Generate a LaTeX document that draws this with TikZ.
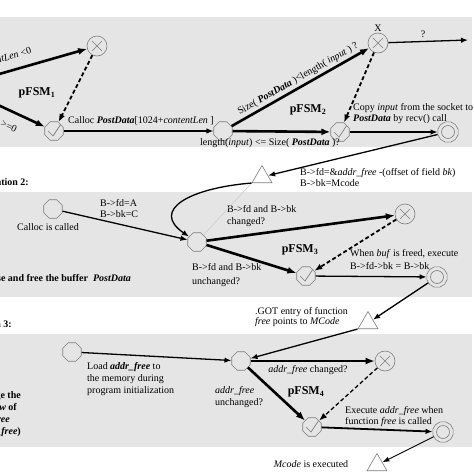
\documentclass[tikz,border=0pt]{standalone}
\usepackage{fontspec}
\setmainfont{Liberation Serif}
\usetikzlibrary{shapes.geometric,arrows.meta}
\definecolor{bgc}{RGB}{229,229,229}
\definecolor{ndc}{RGB}{125,125,125}
\begin{document}
\begin{tikzpicture}[x=1pt,y=-1pt,
  every node/.style={font=\fontsize{10}{11}\selectfont, inner sep=0pt},
  stn/.style={regular polygon, regular polygon sides=8, minimum size=20pt, draw=ndc, line width=0.6pt},
  xn/.style={circle, minimum size=20pt, draw=ndc, line width=0.6pt,
    path picture={\draw[ndc,line width=0.6pt]
      ([shift={(-5,-5)}]path picture bounding box.center) -- ([shift={(5,5)}]path picture bounding box.center)
      ([shift={(-5,5)}]path picture bounding box.center) -- ([shift={(5,-5)}]path picture bounding box.center);}},
  ckn/.style={stn,
    path picture={\draw[ndc,line width=0.7pt]
      ([shift={(-6,0)}]path picture bounding box.center) -- ([shift={(-1,5)}]path picture bounding box.center)
      -- ([shift={(7,-7)}]path picture bounding box.center);}},
  finn/.style={regular polygon, regular polygon sides=12, minimum size=21pt, draw=ndc, line width=0.6pt,
    path picture={\draw[ndc,line width=0.6pt] (path picture bounding box.center) circle[radius=6.5pt];}},
  trin/.style={regular polygon, regular polygon sides=3, minimum size=23pt, draw=ndc, line width=0.6pt},
  lbl/.style={align=left, anchor=north west},
  pf/.style={font=\fontsize{12}{14}\selectfont\bfseries},
  bf/.style={font=\fontsize{10}{12}\selectfont\bfseries},
  thk/.style={line width=2.6pt, -{Latex[length=9pt,width=7pt]}},
  nrm/.style={line width=1.3pt, -{Latex[length=7pt,width=5.5pt]}},
  thn/.style={line width=0.9pt, -{Latex[length=7pt,width=5pt]}},
  dsh/.style={line width=1.8pt, dash pattern=on 4pt off 2.5pt, -{Latex[length=8pt,width=6pt]}}
]
\useasboundingbox (0,0) rectangle (474,474);
% panels
\fill[bgc] (0,17) rectangle (472,147);
\fill[bgc] (0,192) rectangle (472,297);
\fill[bgc] (0,334) rectangle (472,447);

% ---------- panel 1 ----------
\node[xn] (X1) at (97,46) {};
\node[ckn] (C1) at (54,131) {};
\node[stn] (S1) at (223,131) {};
\node[xn] (X2) at (378,43) {};
\node[ckn] (C2) at (340,132) {};
\node[finn] (F2) at (448,132) {};
\coordinate (in1) at (-60,91);
\coordinate (in2) at (-60,78);
\coordinate (out1) at (468,40);

\node[anchor=base east, rotate=16.4] (l1) at (32,53) {\textit{contentLen} <0};
\node[anchor=base east, rotate=-26] (l2) at (15,133) {\textit{contentLen} >=0};
\node[pf] (p1) at (37,93) {pFSM\textsubscript{1}};
\node (lc) at (141,121) {Calloc \textbf{\textit{PostData}}[1024+\textit{contentLen} ]};
\node (ll) at (270,143) {length(\textit{input}) <= Size( \textbf{\textit{PostData}} )?};
\node[rotate=29.6] (ls) at (298,79) {Size( \textbf{\textit{PostData}} )<length( \textit{input} ) ?};
\node[pf] (p2) at (308,110) {pFSM\textsubscript{2}};
\node[lbl] (lcp) at (353,103) {Copy \textit{input} from the socket to\\\textbf{\textit{PostData}} by recv() call};
\node (lx) at (378,28) {X};
\node (lq) at (423,34) {?};

\draw[thk] (in1) -- (X1);
\draw[thk] (in2) -- (C1);
\draw[dsh] (X1) -- (C1);
\draw[nrm] (C1) -- (S1);
\draw[thk] (S1) -- (X2);
\draw[thk] (S1) -- (C2);
\draw[dsh] (X2) -- (C2);
\draw[nrm] (X2) -- (out1);
\draw[nrm] (C2) -- (F2);

% ---------- panel 2 ----------
\node[trin] (T1) at (262,177) {};
\node[lbl] (lb1) at (300,168) {B->fd=\&\textit{addr\_free} -(offset of field \textit{bk})\\B->bk=Mcode};
\node[bf, anchor=east] (sit2) at (29,182) {Situation 2:};
\node[stn] (S2a) at (53,209) {};
\node (lcc) at (48,227) {Calloc is called};
\node[lbl] (lba) at (100,199) {B->fd=A\\B->bk=C};
\node[stn] (S2) at (197,242) {};
\node[xn] (X3) at (405,214) {};
\node[ckn] (C3) at (306,276) {};
\node[finn] (F3) at (437,277) {};
\node[lbl, font=\fontsize{10}{12}\selectfont] (lch) at (227,205) {B->fd and B->bk\\changed?};
\node[lbl, font=\fontsize{10}{14}\selectfont] (lun) at (192,263) {B->fd and B->bk\\unchanged?};
\node[pf] (p3) at (300,250) {pFSM\textsubscript{3}};
\node[lbl, font=\fontsize{10}{13}\selectfont] (lwb) at (350,249) {When \textit{buf} is freed, execute\\B->fd->bk = B->bk};
\node[bf, anchor=east] (use) at (131,278) {Use and free the buffer\enspace\textit{PostData}};

\draw[nrm] (F2) -- (T1);
\draw[line width=0.4pt, gray!45] (T1.corner 2) -- (S2);
\draw[nrm] (T1.corner 2) .. controls (190,188) and (150,210) .. (S2);
\draw[nrm] (S2a) -- (S2);
\draw[thk] (S2) -- (X3);
\draw[thk] (S2) -- (C3);
\draw[dsh] (X3) -- (C3);
\draw[nrm] (C3) -- (F3);

% ---------- panel 3 ----------
\node[trin] (T2) at (368,323) {};
\node[lbl, font=\fontsize{10}{10.5}\selectfont] (lgot) at (255,307) {.GOT entry of function\\\textit{free} points to \textit{MCode}};
\node[bf, anchor=east] (sit3) at (12,324) {Situation 3:};
\node[stn] (S4a) at (72,352) {};
\node[stn] (S4) at (241,361) {};
\node[xn] (X4) at (385,361) {};
\node[ckn] (C4) at (312,427) {};
\node[finn] (F4) at (443,432) {};
\node[trin] (T3) at (377,465) {};
\node[lbl, font=\fontsize{10}{12}\selectfont] (lload) at (87,362) {Load \textbf{\textit{addr\_free}} to\\the memory during\\program initialization};
\node (lac) at (308,370) {\textit{addr\_free} changed?};
\node[lbl, font=\fontsize{10}{12}\selectfont] (lau) at (215,386) {\textit{addr\_free}\\unchanged?};
\node[pf] (p4) at (306,392) {pFSM\textsubscript{4}};
\node[lbl] (lex) at (345,406) {Execute \textit{addr\_free} when\\function \textit{free} is called};
\node (lmc) at (311,464) {\textit{Mcode} is executed};
\node[bf, anchor=east] (c1) at (21,396) {Change the};
\node[bf, anchor=east] (c2) at (17,408) {\textit{flow} of};
\node[bf, anchor=east] (c3) at (10,420) {\textit{free}};
\node[bf, anchor=east] (c4) at (21,432) {(\textit{addr\_free})};

\draw[nrm] (F3) -- (T2);
\draw[nrm] (T2.corner 2) -- (S4);
\draw[nrm] (S4a) -- (S4);
\draw[thk] (S4) -- (X4);
\draw[thk] (S4) -- (C4);
\draw[dsh, line width=1.3pt] (X4) -- (C4);
\draw[nrm, line width=1.8pt] (C4) -- (F4);
\draw[thn] (F4) -- (T3);
\end{tikzpicture}
\end{document}
